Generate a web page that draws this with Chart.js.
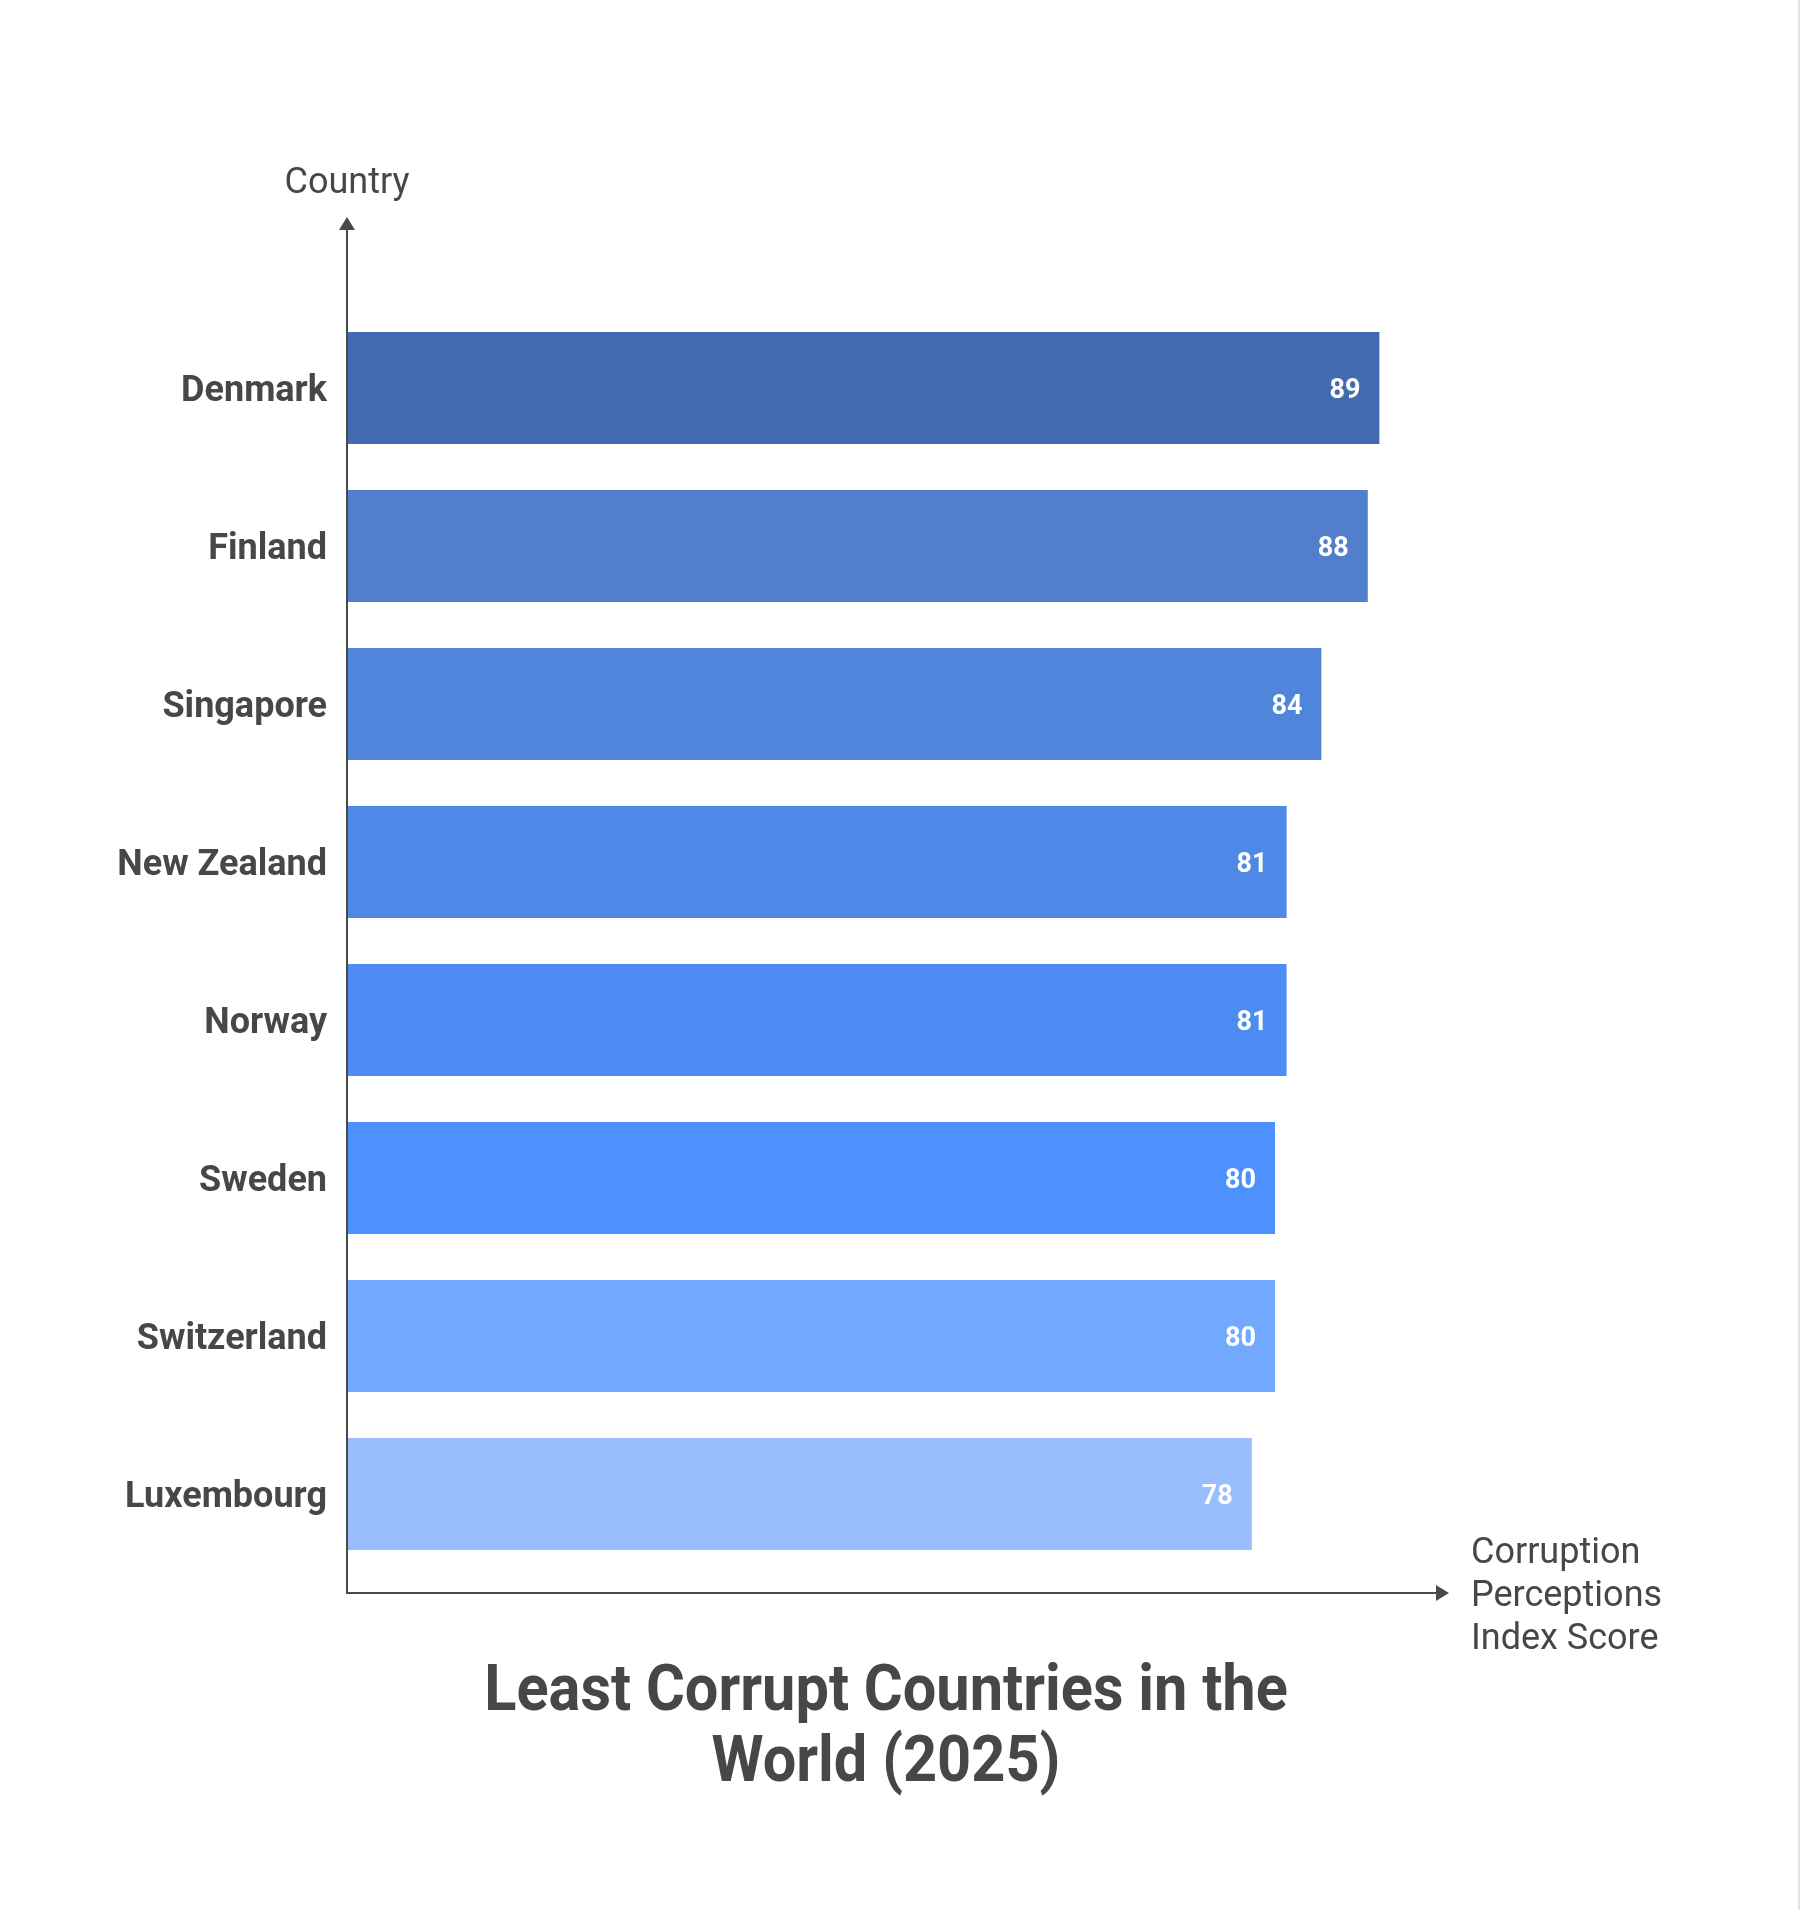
<!DOCTYPE html>
<html>
<head>
<meta charset="utf-8">
<title>Least Corrupt Countries in the World (2025)</title>
<script src="https://cdn.jsdelivr.net/npm/chart.js@4.4.1/dist/chart.umd.min.js"></script>
<style>
  html, body { margin: 0; padding: 0; background: #fff; }
  #wrap { width: 1800px; height: 1910px; }
</style>
</head>
<body>
<div id="wrap"><canvas id="cpi-chart" width="1800" height="1910"></canvas></div>
<script>
// chart data
const countries = ['Denmark', 'Finland', 'Singapore', 'New Zealand', 'Norway', 'Sweden', 'Switzerland', 'Luxembourg'];
const scores = [89, 88, 84, 81, 81, 80, 80, 78];
const barColors = ['#436cb0', '#517fcc', '#4f86dc', '#4e89e8', '#4d8cf3', '#4c91fd', '#72a8fd', '#98befd'];

const chartTitle = ['Least Corrupt Countries in the', 'World (2025)'];
const yAxisTitle = 'Country';
const xAxisTitle = ['Corruption', 'Perceptions', 'Index Score'];

const textColor = '#474747';
const axisColor = '#4a4a4a';

// value labels inside the bar ends
const valueLabels = {
    id: 'valueLabels',
    afterDatasetsDraw(chart) {
        const ctx = chart.ctx;
        const meta = chart.getDatasetMeta(0);
        ctx.save();
        ctx.font = 'bold 27px Roboto';
        ctx.fillStyle = '#ffffff';
        ctx.textAlign = 'right';
        ctx.textBaseline = 'middle';
        meta.data.forEach((bar, i) => {
            ctx.fillText(String(scores[i]), bar.x - 19, bar.y + 3);
        });
        ctx.restore();
    }
};

// axis lines with arrows, axis titles and the main title
const decorations = {
    id: 'decorations',
    afterDraw(chart) {
        const ctx = chart.ctx;
        const area = chart.chartArea;
        const x0 = area.left;
        const yBase = area.bottom + 20;
        const yTop = 217;
        const xEnd = 1449;

        ctx.save();
        ctx.strokeStyle = axisColor;
        ctx.fillStyle = axisColor;
        ctx.lineWidth = 2;

        // y axis
        ctx.beginPath();
        ctx.moveTo(x0, yBase + 1);
        ctx.lineTo(x0, yTop + 10);
        ctx.stroke();
        ctx.beginPath();
        ctx.moveTo(x0, yTop);
        ctx.lineTo(x0 - 8, yTop + 13);
        ctx.lineTo(x0 + 8, yTop + 13);
        ctx.closePath();
        ctx.fill();

        // x axis
        ctx.beginPath();
        ctx.moveTo(x0 - 1, yBase);
        ctx.lineTo(xEnd - 10, yBase);
        ctx.stroke();
        ctx.beginPath();
        ctx.moveTo(xEnd, yBase);
        ctx.lineTo(xEnd - 13, yBase - 8);
        ctx.lineTo(xEnd - 13, yBase + 8);
        ctx.closePath();
        ctx.fill();

        // axis titles
        ctx.fillStyle = textColor;
        ctx.font = '36px Roboto';
        ctx.textAlign = 'center';
        ctx.textBaseline = 'alphabetic';
        ctx.fillText(yAxisTitle, x0, 193);

        ctx.textAlign = 'left';
        ctx.textBaseline = 'middle';
        xAxisTitle.forEach((line, i) => {
            ctx.fillText(line, 1471, yBase - 39 + i * 43);
        });

        // main title (condensed look)
        ctx.font = 'bold 64px Roboto';
        ctx.textAlign = 'center';
        ctx.textBaseline = 'middle';
        chartTitle.forEach((line, i) => {
            ctx.save();
            ctx.translate(886, 1694 + i * 71);
            ctx.scale(0.93, 1);
            ctx.fillText(line, 0, 0);
            ctx.restore();
        });

        // faint frame line on the right edge
        ctx.strokeStyle = '#e2e2e2';
        ctx.lineWidth = 2;
        ctx.beginPath();
        ctx.moveTo(1799, 0);
        ctx.lineTo(1799, chart.height);
        ctx.stroke();
        ctx.restore();
    }
};

const ctx = document.getElementById('cpi-chart').getContext('2d');
new Chart(ctx, {
    type: 'bar',
    data: {
        labels: countries,
        datasets: [{
            label: 'Corruption Perceptions Index Score',
            data: scores,
            backgroundColor: barColors,
            borderWidth: 0,
            categoryPercentage: 1,
            barPercentage: 0.709
        }]
    },
    options: {
        indexAxis: 'y',
        responsive: false,
        animation: false,
        layout: {
            padding: { top: 309, bottom: 337, left: 0, right: 293 }
        },
        scales: {
            x: {
                display: false,
                min: 0,
                max: 100
            },
            y: {
                grid: { display: false, drawTicks: false },
                border: { display: false },
                ticks: {
                    color: textColor,
                    padding: 20,
                    labelOffset: 4,
                    font: { family: 'Roboto', size: 36, weight: 'bold' }
                },
                afterFit(scale) {
                    scale.width = 347;
                }
            }
        },
        plugins: {
            legend: { display: false },
            tooltip: { enabled: false },
            title: { display: false }
        }
    },
    plugins: [valueLabels, decorations]
});
</script>
</body>
</html>
